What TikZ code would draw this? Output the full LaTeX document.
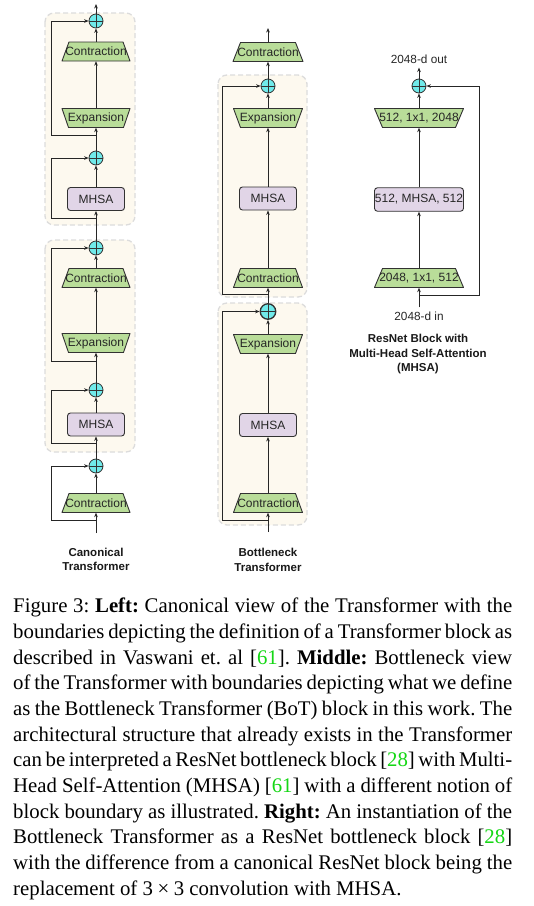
\documentclass[tikz,border=0pt]{standalone}
\usepackage{fontspec}
\setmainfont{Liberation Serif}
\newfontfamily\arialf{Liberation Sans}
\usetikzlibrary{arrows.meta}
\definecolor{trapgreen}{RGB}{185,221,153}
\definecolor{mhsafill}{RGB}{225,213,231}
\definecolor{addcyan}{RGB}{112,234,234}
\definecolor{blockfill}{RGB}{253,249,239}
\definecolor{blockedge}{RGB}{220,220,220}
\definecolor{edgedark}{RGB}{50,50,50}
\definecolor{citegreen}{RGB}{20,215,20}
\frenchspacing
% trapezoid: name, x, y, top width, bottom width, text
\newcommand{\trapnode}[6]{%
  \filldraw[fill=trapgreen, draw=edgedark, line width=0.9pt, line join=round]
    ({#2-(#4)/2},{#3-9.5}) -- ({#2+(#4)/2},{#3-9.5}) -- ({#2+(#5)/2},{#3+9.5}) -- ({#2-(#5)/2},{#3+9.5}) -- cycle;
  \node[tbox] (#1) at (#2,#3) {#6};}
\newcommand{\capline}[1]{\makebox[499pt][s]{#1}}
\begin{document}
\begin{tikzpicture}[x=1pt,y=-1pt,
  tbox/.style={rectangle, minimum height=19pt, minimum width=50pt, inner sep=0pt,
    font=\arialf\fontsize{12}{14}\selectfont, text=black!85},
  mhsa/.style={rectangle, rounded corners=3pt, draw=edgedark, fill=mhsafill, line width=0.9pt,
    minimum width=57pt, minimum height=23pt, inner sep=0pt, font=\arialf\fontsize{12}{14}\selectfont, text=black!85},
  addn/.style={circle, draw=edgedark, fill=addcyan, line width=0.8pt, minimum size=14pt, inner sep=0pt,
    path picture={\draw[edgedark, line width=0.8pt]
      (path picture bounding box.north) -- (path picture bounding box.south)
      (path picture bounding box.west) -- (path picture bounding box.east);}},
  addbold/.style={addn, line width=1.3pt, minimum size=15.5pt},
  arr/.style={-{Stealth[length=4.5pt,width=3.6pt]}, line width=0.8pt, draw=black!85},
  blk/.style={draw=blockedge, fill=blockfill, dash pattern=on 5pt off 3pt, line width=1.3pt, rounded corners=9pt},
  io/.style={font=\arialf\fontsize{11.8}{14}\selectfont, text=black!85, inner sep=4pt},
  capl/.style={font=\arialf\bfseries\fontsize{11.5}{14.5}\selectfont, align=center, text=black!90, inner sep=0pt}
]
\fill[white] (0,0) rectangle (534,906);
\useasboundingbox (0,0) rectangle (534,906);

% ---------- blocks ----------
\draw[blk] (45,13) rectangle (135,225);
\draw[blk] (45,240) rectangle (135,452);
\draw[blk] (218,75) rectangle (307,297);
\draw[blk] (218,303) rectangle (307,525);

% ---------- left column ----------
\node[addn] (Lp1) at (96,21) {};
\trapnode{LC1}{96}{51.5}{54}{68}{Contraction}
\trapnode{LE1}{96}{118}{68}{55}{Expansion}
\node[addn] (Lp2) at (96,158) {};
\node[mhsa] (LM1) at (96,199) {MHSA};
\node[addn] (Lp3) at (96,248) {};
\trapnode{LC2}{96}{278}{54}{68}{Contraction}
\trapnode{LE2}{96}{343}{68}{55}{Expansion}
\node[addn] (Lp4) at (96,390) {};
\node[mhsa] (LM2) at (96,424.5) {MHSA};
\node[addn] (Lp5) at (96,466) {};
\trapnode{LC3}{96}{503}{54}{68}{Contraction}
\coordinate (Lout) at (96,4);
\coordinate (Lin) at (96,533);
\coordinate (Ls1) at (96,135);
\coordinate (Ls2) at (96,218);
\coordinate (Ls3) at (96,361);
\coordinate (Ls4) at (96,443);
\coordinate (Ls5) at (96,520);

\draw[arr] (Lin) -- (LC3);
\draw[arr] (LC3) -- (Lp5);
\draw[arr] (Lp5) -- (LM2);
\draw[arr] (LM2) -- (Lp4);
\draw[arr] (Lp4) -- (LE2);
\draw[arr] (LE2) -- (LC2);
\draw[arr] (LC2) -- (Lp3);
\draw[arr] (Lp3) -- (LM1);
\draw[arr] (LM1) -- (Lp2);
\draw[arr] (Lp2) -- (LE1);
\draw[arr] (LE1) -- (LC1);
\draw[arr] (LC1) -- (Lp1);
\draw[arr] (Lp1) -- (Lout);
\draw[arr] (Ls1) -- ++(-45,0) |- (Lp1);
\draw[arr] (Ls2) -- ++(-45,0) |- (Lp2);
\draw[arr] (Ls3) -- ++(-45,0) |- (Lp3);
\draw[arr] (Ls4) -- ++(-45,0) |- (Lp4);
\draw[arr] (Ls5) -- ++(-45,0) |- (Lp5);

\node[capl] (Lcap) at (96,559.5) {Canonical\\Transformer};

% ---------- middle column ----------
\trapnode{MC1}{268}{52}{55}{70}{Contraction}
\node[addn] (Mp1) at (268,86) {};
\trapnode{ME1}{268}{118}{69}{55}{Expansion}
\node[mhsa] (MM1) at (268,198.5) {MHSA};
\trapnode{MC2}{268}{278}{55}{69}{Contraction}
\node[addbold] (Mp2) at (268,311.5) {};
\trapnode{ME2}{268}{344}{69}{55}{Expansion}
\node[mhsa] (MM2) at (268,425) {MHSA};
\trapnode{MC3}{268}{503}{55}{69}{Contraction}
\coordinate (Mout) at (268,28);
\coordinate (Min) at (268,532);
\coordinate (Ms1) at (268,294);
\coordinate (Ms2) at (268,520);

\draw[arr] (Min) -- (MC3);
\draw[arr] (MC3) -- (MM2);
\draw[arr] (MM2) -- (ME2);
\draw[arr] (ME2) -- (Mp2);
\draw[arr] (Mp2) -- (MC2);
\draw[arr] (MC2) -- (MM1);
\draw[arr] (MM1) -- (ME1);
\draw[arr] (ME1) -- (Mp1);
\draw[arr] (Mp1) -- (MC1);
\draw[arr] (MC1) -- (Mout);
\draw[arr] (Ms1) -- ++(-46,0) |- (Mp1);
\draw[arr] (Ms2) -- ++(-46,0) |- (Mp2);

\node[capl] (Mcap) at (268,560) {Bottleneck\\Transformer};

% ---------- right column ----------
\node[io] (Rout) at (419,59) {2048-d out};
\node[addn] (Rp) at (419,86) {};
\trapnode{RE}{419}{118}{89}{73}{512, 1x1, 2048}
\node[mhsa, minimum width=89pt, minimum height=23.5pt] (RM) at (419,199.5) {512, MHSA, 512};
\trapnode{RC}{419}{278}{73}{89}{2048, 1x1, 512}
\node[io] (Rin) at (419,316) {2048-d in};
\coordinate (Rs) at (419,295);

\draw[arr] (Rin) -- (RC);
\draw[arr] (RC) -- (RM);
\draw[arr] (RM) -- (RE);
\draw[arr] (RE) -- (Rp);
\draw[arr] (Rp) -- (Rout);
\draw[arr] (Rs) -- ++(60,0) |- (Rp);

\node[capl] (Rcap) at (418,354.5) {ResNet Block with\\Multi-Head Self-Attention\\(MHSA)};

% ---------- caption ----------
\node[anchor=north west, inner sep=0pt, align=left,
  font=\fontsize{20.8}{25.65}\selectfont] (cap) at (13,598) {%
\capline{Figure 3: \textbf{Left:} Canonical view of the Transformer with the}\\
\capline{boundaries depicting the definition of a Transformer block as}\\
\capline{described in Vaswani et. al [\textcolor{citegreen}{61}]. \textbf{Middle:} Bottleneck view}\\
\capline{of the Transformer with boundaries depicting what we define}\\
\capline{as the Bottleneck Transformer (BoT) block in this work. The}\\
\capline{architectural structure that already exists in the Transformer}\\
\capline{can be interpreted a ResNet bottleneck block [\textcolor{citegreen}{28}] with Multi-}\\
\capline{Head Self-Attention (MHSA) [\textcolor{citegreen}{61}] with a different notion of}\\
\capline{block boundary as illustrated. \textbf{Right:} An instantiation of the}\\
\capline{Bottleneck Transformer as a ResNet bottleneck block [\textcolor{citegreen}{28}]}\\
\capline{with the difference from a canonical ResNet block being the}\\
replacement of 3\hspace{0.22em}×\hspace{0.22em}3 convolution with MHSA.};
\end{tikzpicture}
\end{document}
